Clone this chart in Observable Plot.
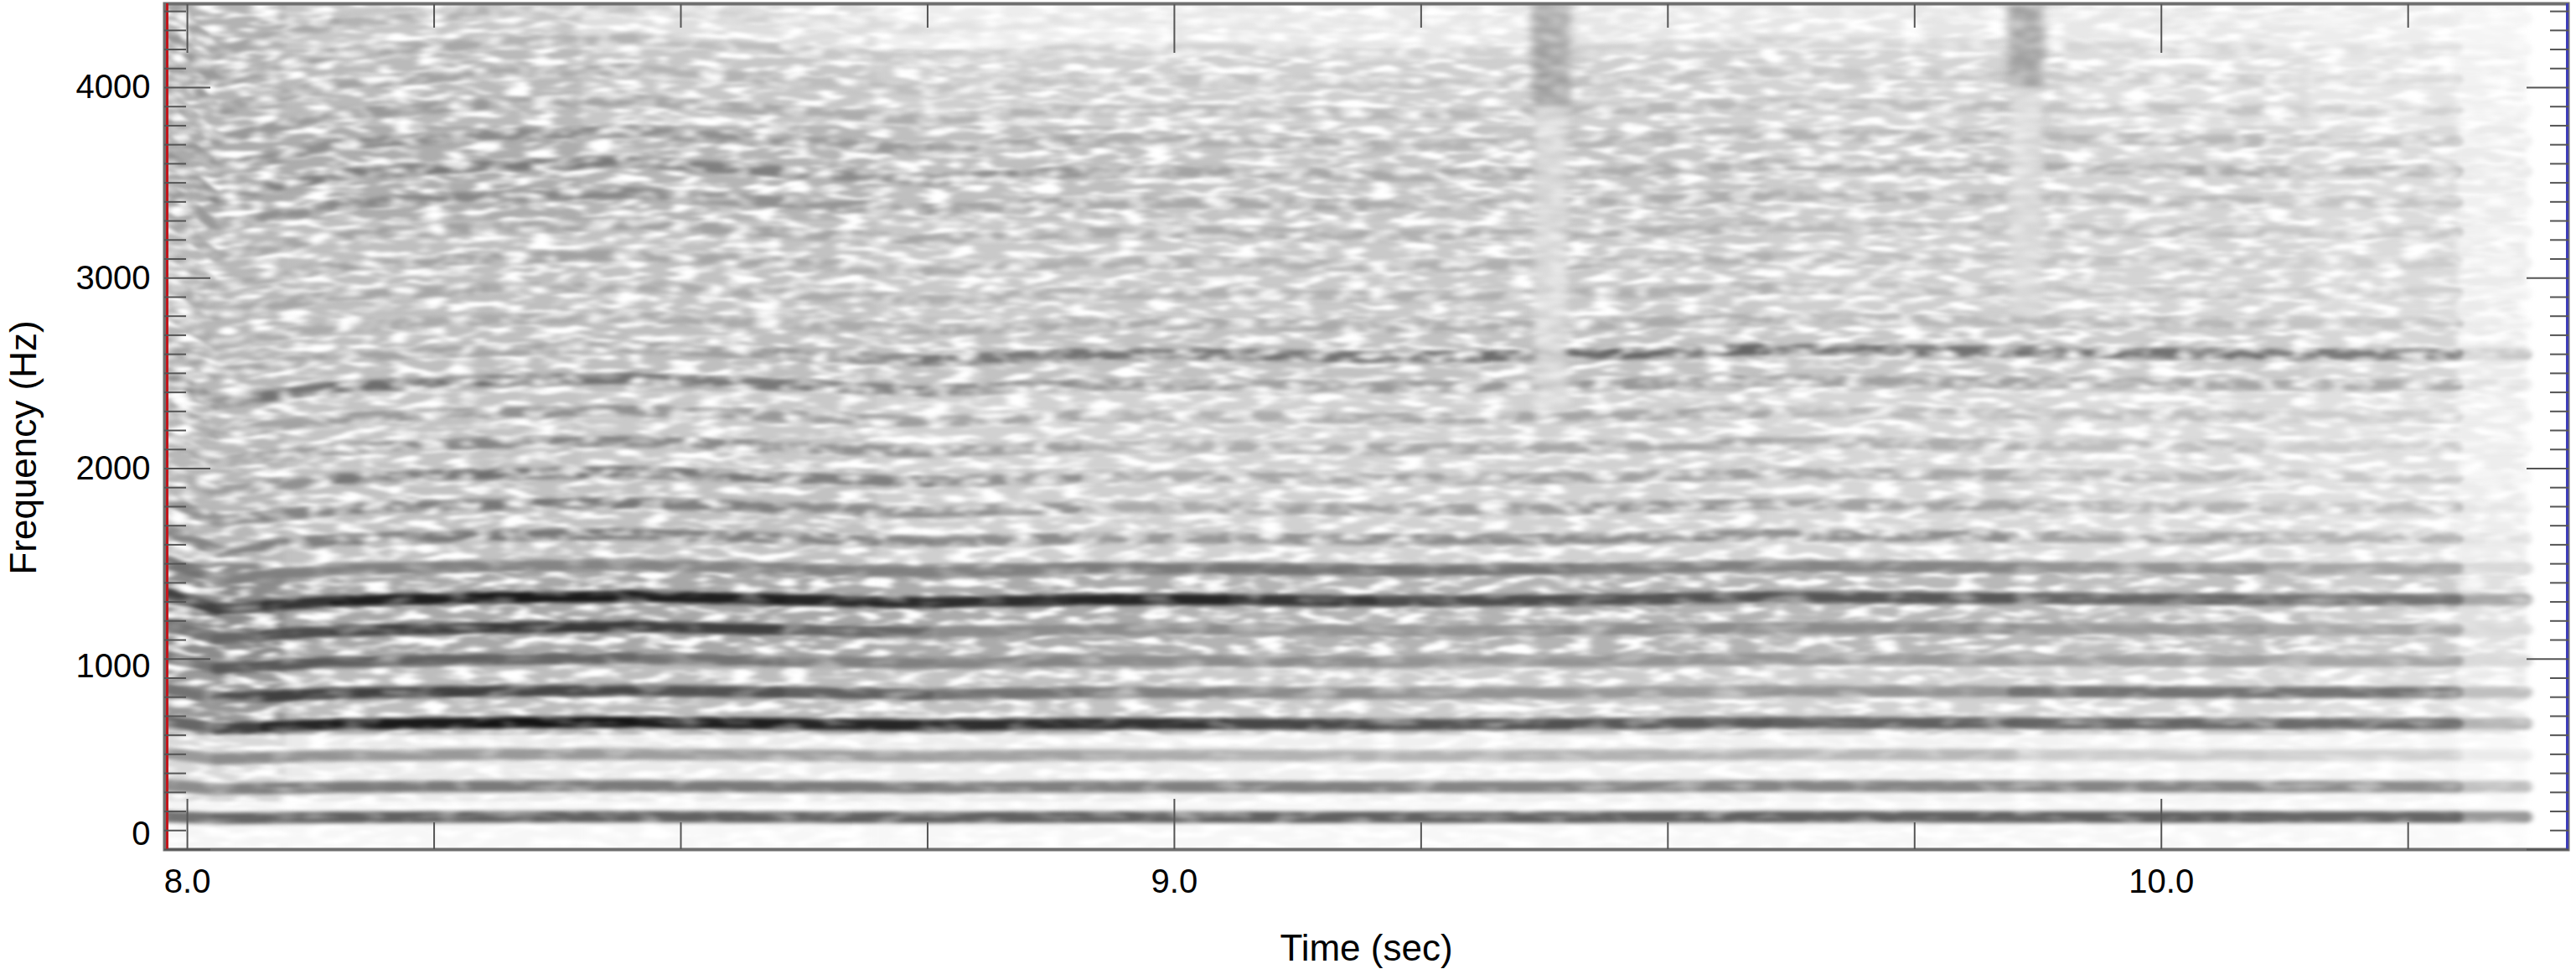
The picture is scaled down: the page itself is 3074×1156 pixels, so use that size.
<!DOCTYPE html>
<html>
<head>
<meta charset="utf-8">
<script src="https://cdn.jsdelivr.net/npm/d3@7"></script>
<script src="https://cdn.jsdelivr.net/npm/@observablehq/plot@0.6"></script>
<style>
  html, body { margin: 0; padding: 0; background: #fff; }
  #chart svg { display: block; }
</style>
</head>
<body>
<div id="chart"></div>
<script>
// ---------- axis tick values ----------
const timeTicksMajor = [8, 9, 10];
const timeTicksMinor = [8.25, 8.5, 8.75, 9.25, 9.5, 9.75, 10.25];
const freqTickLabels = [0, 1000, 2000, 3000, 4000];
const freqTicksMinor = [100,200,300,400,500,600,700,800,900,1100,1200,1300,1400,1500,1600,1700,1800,1900,
  2100,2200,2300,2400,2500,2600,2700,2800,2900,3100,3200,3300,3400,3500,3600,3700,3800,3900,4100,4200,4300,4400];
const xDomain = [7.977, 10.412];
const yDomain = [0, 4440];

// ---------- harmonic tracks ----------
const knotTimes = [7.978, 8.03, 8.08, 8.15, 8.3, 8.45, 8.6, 8.75, 8.9, 9.05, 9.2, 9.4, 9.6, 9.85, 10.1, 10.3, 10.37];
const pitchRatio = [1.025, 0.96, 0.975, 0.995, 1.008, 1.014, 1.0, 0.987, 1.0, 1.0, 0.994, 0.998, 1.01, 1.005, 1.0, 1.0, 1.0];
const harmonicBase = [170, 330, 495, 660, 825, 990, 1155, 1312, 1475, 1635, 1795, 1955, 2115, 2275,
  2440, 2600, 2760, 2920, 3080, 3240, 3400, 3560, 3720, 3880, 4040, 4200, 4360];
// darkness (0 white .. 1 black) of each harmonic on each segment between knots
const harmonicLevels = [
  [0.55,0.6,0.62,0.62,0.62,0.62,0.62,0.62,0.62,0.62,0.62,0.62,0.62,0.62,0.6,0.4],
  [0.45,0.5,0.52,0.52,0.52,0.52,0.52,0.5,0.5,0.5,0.48,0.48,0.48,0.48,0.45,0.25],
  [0.4,0.45,0.42,0.4,0.4,0.38,0.38,0.36,0.32,0.3,0.3,0.3,0.28,0.2,0.18,0.08],
  [0.6,0.75,0.85,0.9,0.92,0.88,0.85,0.82,0.8,0.72,0.68,0.65,0.62,0.6,0.58,0.3],
  [0.55,0.7,0.75,0.75,0.72,0.68,0.62,0.55,0.5,0.45,0.42,0.4,0.42,0.55,0.55,0.25],
  [0.55,0.65,0.65,0.62,0.6,0.55,0.5,0.48,0.45,0.45,0.42,0.42,0.4,0.38,0.35,0.15],
  [0.55,0.6,0.7,0.75,0.78,0.75,0.6,0.45,0.45,0.42,0.42,0.45,0.45,0.4,0.35,0.15],
  [0.75,0.7,0.8,0.88,0.9,0.88,0.85,0.82,0.85,0.78,0.7,0.68,0.66,0.6,0.55,0.35],
  [0.55,0.5,0.5,0.5,0.48,0.48,0.5,0.5,0.52,0.55,0.55,0.5,0.48,0.42,0.35,0.15],
  [0.48,0.48,0.5,0.53,0.53,0.5,0.48,0.45,0.4,0.42,0.45,0.46,0.44,0.36,0.3,0.12],
  [0.43,0.43,0.48,0.5,0.53,0.5,0.46,0.43,0.33,0.37,0.39,0.42,0.36,0.3,0.25,0.1],
  [0.38,0.38,0.43,0.53,0.56,0.53,0.5,0.43,0.33,0.35,0.37,0.37,0.34,0.28,0.22,0.07],
  [0.38,0.38,0.4,0.46,0.48,0.46,0.43,0.38,0.3,0.32,0.35,0.35,0.32,0.26,0.2,0.07],
  [0.36,0.36,0.36,0.4,0.43,0.4,0.38,0.35,0.3,0.32,0.35,0.35,0.28,0.26,0.2,0.07],
  [0.45,0.5,0.55,0.57,0.55,0.53,0.5,0.45,0.4,0.37,0.4,0.4,0.37,0.35,0.33,0.12],
  [0.36,0.36,0.36,0.36,0.36,0.38,0.45,0.53,0.55,0.55,0.57,0.6,0.55,0.55,0.52,0.22],
  [0.33,0.33,0.33,0.33,0.33,0.33,0.33,0.33,0.33,0.33,0.33,0.33,0.28,0.28,0.23,0.08],
  [0.33,0.35,0.35,0.35,0.33,0.33,0.33,0.31,0.31,0.31,0.31,0.31,0.26,0.24,0.2,0.06],
  [0.33,0.35,0.35,0.37,0.37,0.35,0.33,0.31,0.31,0.31,0.31,0.31,0.26,0.24,0.2,0.06],
  [0.35,0.35,0.35,0.37,0.37,0.37,0.35,0.33,0.33,0.33,0.31,0.31,0.28,0.26,0.22,0.06],
  [0.4,0.42,0.44,0.47,0.47,0.44,0.42,0.36,0.34,0.34,0.32,0.32,0.3,0.28,0.23,0.06],
  [0.44,0.46,0.5,0.52,0.52,0.5,0.46,0.44,0.36,0.34,0.34,0.32,0.32,0.32,0.27,0.08],
  [0.42,0.42,0.44,0.46,0.46,0.44,0.4,0.36,0.32,0.32,0.3,0.3,0.3,0.28,0.23,0.06],
  [0.4,0.4,0.4,0.4,0.36,0.34,0.32,0.3,0.28,0.28,0.28,0.28,0.26,0.23,0.18,0.06],
  [0.4,0.4,0.36,0.36,0.34,0.3,0.26,0.24,0.24,0.24,0.24,0.24,0.22,0.2,0.14,0.05],
  [0.4,0.4,0.36,0.34,0.3,0.26,0.22,0.2,0.18,0.18,0.18,0.18,0.16,0.16,0.12,0.05],
  [0.36,0.36,0.34,0.3,0.24,0.18,0.14,0.11,0.1,0.1,0.1,0.1,0.1,0.1,0.08,0.04]
];
const lowHarmonicCount = 9;

// ---------- background noise field ----------
const noiseTimeEdges = [7.977, 8.1, 8.4, 8.7, 9.0, 9.3, 9.6, 9.9, 10.15, 10.3, 10.37, 10.412];
const noiseFreqEdges = [0, 250, 600, 1000, 1500, 2000, 2400, 2800, 3300, 3800, 4200, 4440];
const noiseLevels = [
  [0.04,0.03,0.03,0.03,0.03,0.03,0.03,0.03,0.025,0.015,0],
  [0.15,0.08,0.08,0.07,0.06,0.06,0.05,0.045,0.04,0.025,0],
  [0.4,0.26,0.26,0.24,0.2,0.2,0.18,0.16,0.13,0.08,0],
  [0.45,0.34,0.34,0.33,0.3,0.3,0.28,0.25,0.2,0.12,0],
  [0.28,0.24,0.24,0.19,0.18,0.18,0.16,0.14,0.12,0.07,0],
  [0.28,0.23,0.21,0.18,0.18,0.18,0.16,0.14,0.12,0.07,0],
  [0.28,0.25,0.25,0.24,0.24,0.24,0.22,0.2,0.16,0.08,0],
  [0.28,0.25,0.24,0.21,0.21,0.21,0.19,0.17,0.14,0.08,0],
  [0.33,0.32,0.29,0.25,0.23,0.23,0.2,0.17,0.14,0.08,0],
  [0.3,0.27,0.22,0.19,0.19,0.19,0.17,0.13,0.1,0.06,0],
  [0.3,0.22,0.13,0.07,0.09,0.1,0.1,0.09,0.07,0.04,0]
];

// ---------- broadband bursts ----------
const burstStart = [9.362, 9.366, 9.845, 9.849];
const burstEnd   = [9.402, 9.398, 9.882, 9.878];
const burstLow   = [3900, 2300, 4000, 2800];
const burstHigh  = [4440, 3900, 4440, 4000];
const burstLevel = [0.48, 0.16, 0.48, 0.16];

// ---------- build tables ----------
const lowSegs = [], highSegs = [];
harmonicBase.forEach((f, h) => {
  for (let i = 0; i < knotTimes.length - 1; i++) {
    (h < lowHarmonicCount ? lowSegs : highSegs).push({
      t1: knotTimes[i], t2: knotTimes[i + 1],
      f1: f * pitchRatio[i], f2: f * pitchRatio[i + 1],
      level: harmonicLevels[h][i]
    });
  }
});
lowSegs.sort((a, b) => a.level - b.level);
highSegs.sort((a, b) => a.level - b.level);
const noiseCells = [];
noiseLevels.forEach((row, b) => row.forEach((v, j) => noiseCells.push({
  t1: noiseTimeEdges[j], t2: noiseTimeEdges[j + 1], f1: noiseFreqEdges[b], f2: noiseFreqEdges[b + 1], level: v
})));
const bursts = burstStart.map((s, i) => ({t1: s, t2: burstEnd[i], f1: burstLow[i], f2: burstHigh[i], level: burstLevel[i]}));

const W = 3074, H = 1156;
const tickStyle = {stroke: "#555", strokeWidth: 2, fill: "none", label: null};
const labelStyle = {tickSize: 0, fontSize: 40, label: null, fill: "#000"};
const linkOpts = {x1: "t1", y1: "f1", x2: "t2", y2: "f2", stroke: "level", strokeWidth: 14, strokeLinecap: "round", clip: true};

const chart = Plot.plot({
  width: W, height: H,
  marginLeft: 196, marginRight: 10, marginTop: 4, marginBottom: 143,
  style: {fontFamily: "'Liberation Sans', Arial, Helvetica, sans-serif", background: "#fff", color: "#000"},
  x: {domain: xDomain, label: null},
  y: {domain: yDomain, label: null},
  color: {type: "linear", domain: [0, 1], range: ["#ffffff", "#000000"]},
  marks: [
    Plot.rect(noiseCells, {x1: "t1", x2: "t2", y1: "f1", y2: "f2", fill: "level", clip: true}),
    Plot.link(highSegs, linkOpts),
    Plot.link(lowSegs, linkOpts),
    Plot.rect(bursts, {x1: "t1", x2: "t2", y1: "f1", y2: "f2", fill: "level", fillOpacity: 0.75, clip: true}),
    Plot.frame({stroke: "#6f6f6f", strokeWidth: 4}),
    Plot.ruleX([xDomain[0]], {stroke: "#c4161c", strokeWidth: 3, dx: 3}),
    Plot.ruleX([xDomain[1]], {stroke: "#3d3db8", strokeWidth: 3, dx: -1}),
    Plot.axisY({anchor: "left", ticks: freqTicksMinor, tickSize: -26, ...tickStyle}),
    Plot.axisY({anchor: "left", ticks: freqTickLabels, tickSize: -55, ...tickStyle}),
    Plot.axisY({anchor: "right", ticks: freqTicksMinor, tickSize: -22, ...tickStyle}),
    Plot.axisY({anchor: "right", ticks: freqTickLabels, tickSize: -50, ...tickStyle}),
    Plot.axisX({anchor: "top", ticks: timeTicksMinor, tickSize: -28, ...tickStyle}),
    Plot.axisX({anchor: "top", ticks: timeTicksMajor, tickSize: -58, ...tickStyle}),
    Plot.axisX({anchor: "bottom", ticks: timeTicksMinor, tickSize: -32, ...tickStyle}),
    Plot.axisX({anchor: "bottom", ticks: timeTicksMajor, tickSize: -60, ...tickStyle}),
    Plot.axisX({anchor: "bottom", ticks: timeTicksMajor, tickPadding: 23, tickFormat: d3.format(".1f"), ...labelStyle}),
    Plot.axisY({anchor: "left", ticks: [2000, 3000, 4000], tickPadding: 17, tickFormat: "d", ...labelStyle}),
    Plot.axisY({anchor: "left", ticks: [1000], tickPadding: 17, tickFormat: "d", dy: 9, ...labelStyle}),
    Plot.axisY({anchor: "left", ticks: [0], tickPadding: 17, tickFormat: "d", dy: -18, ...labelStyle}),
    Plot.text(["Time (sec)"], {text: d => d, frameAnchor: "bottom", dy: 118, fontSize: 44, textAnchor: "middle", lineAnchor: "middle", fill: "#000"}),
    Plot.text(["Frequency (Hz)"], {text: d => d, frameAnchor: "left", dx: -168, dy: 25, rotate: -90, fontSize: 44, textAnchor: "middle", lineAnchor: "middle", fill: "#000"})
  ]
});

document.getElementById("chart").appendChild(chart);

// ---------- spectrogram speckle texture (styling only) ----------
const svg = d3.select(chart.tagName.toLowerCase() === "svg" ? chart : chart.querySelector("svg"));
const defs = svg.insert("defs", ":first-child");
function speckle(id, freq, seed, a, b, blur) {
  const f = defs.append("filter").attr("id", id).attr("filterUnits", "userSpaceOnUse")
    .attr("x", 0).attr("y", 0).attr("width", W).attr("height", H)
    .attr("color-interpolation-filters", "sRGB");
  f.append("feTurbulence").attr("type", "fractalNoise").attr("baseFrequency", freq)
    .attr("numOctaves", 2).attr("seed", seed).attr("result", "n");
  f.append("feColorMatrix").attr("in", "n").attr("type", "matrix")
    .attr("values", `0 0 0 0 1  0 0 0 0 1  0 0 0 0 1  ${a} 0 0 0 ${b}`).attr("result", "s");
  f.append("feComposite").attr("in", "s").attr("in2", "SourceAlpha").attr("operator", "in").attr("result", "si");
  const m = f.append("feMerge").attr("result", "m");
  m.append("feMergeNode").attr("in", "SourceGraphic");
  m.append("feMergeNode").attr("in", "si");
  f.append("feGaussianBlur").attr("in", "m").attr("stdDeviation", blur);
}
speckle("noiseTex", "0.03 0.1", 4, 4, -1.75, "3.5 1.6");
speckle("burstTex", "0.06 0.12", 21, 2.4, -1.0, "6 3");
speckle("highTex", "0.03 0.1", 9, 2.6, -1.05, "2.8 2");
speckle("lowTex", "0.025 0.09", 13, 1.3, -0.62, "3 2.2");
const rectGroups = svg.selectAll('g[aria-label="rect"]').nodes();
if (rectGroups[0]) d3.select(rectGroups[0]).attr("filter", "url(#noiseTex)");
if (rectGroups[1]) d3.select(rectGroups[1]).attr("filter", "url(#burstTex)");
const linkGroups = svg.selectAll('g[aria-label="link"]').nodes();
if (linkGroups[0]) d3.select(linkGroups[0]).attr("filter", "url(#highTex)");
if (linkGroups[1]) d3.select(linkGroups[1]).attr("filter", "url(#lowTex)");
</script>
</body>
</html>
